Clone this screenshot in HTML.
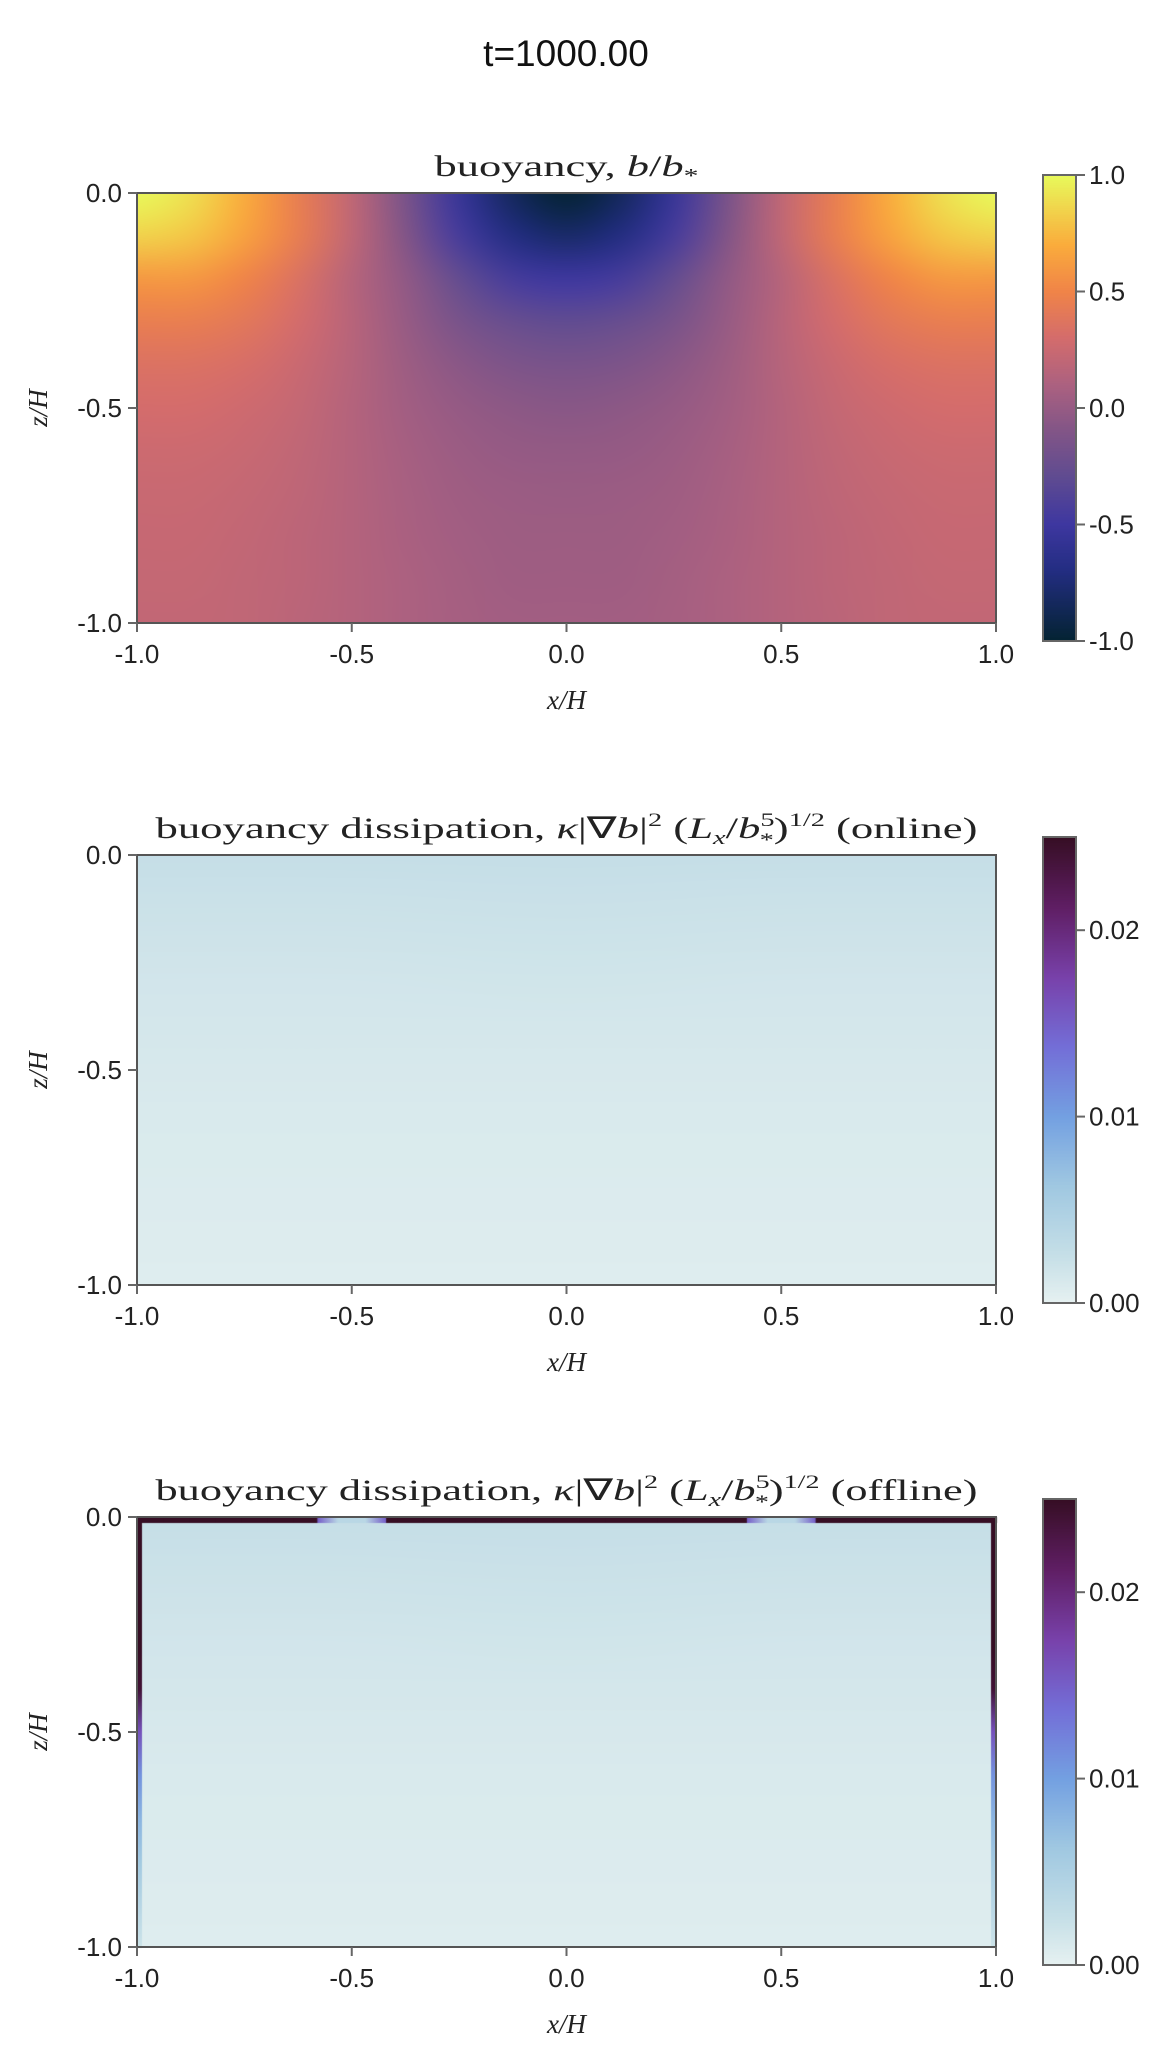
<!DOCTYPE html>
<html><head><meta charset="utf-8">
<style>
html,body{margin:0;padding:0;background:#fff;}
#wrap{position:relative;width:1174px;height:2066px;overflow:hidden;}
canvas{position:absolute;left:0;top:0;}
svg{position:absolute;left:0;top:0;}
</style></head>
<body>
<div id="wrap">
<canvas id="cv" width="1174" height="2066"></canvas>
<svg id="sv" width="1174" height="2066" xmlns="http://www.w3.org/2000/svg"></svg>
</div>
<script>
// ---------- data ----------
const xGrid=[-1,-0.875,-0.75,-0.625,-0.5,-0.375,-0.25,-0.125,0,0.125,0.25,0.375,0.5,0.625,0.75,0.875,1];
const zGrid=[0,-0.1,-0.2,-0.3,-0.4,-0.5,-0.6,-0.7,-0.8,-0.9,-1.0];
const buoyancy=[
[1.0,0.9,0.7,0.45,0.2,-0.15,-0.55,-0.85,-1.0,-0.85,-0.55,-0.15,0.2,0.45,0.7,0.9,1.0],
[0.85,0.8,0.65,0.45,0.2,-0.1,-0.45,-0.7,-0.8,-0.7,-0.45,-0.1,0.2,0.45,0.65,0.8,0.85],
[0.6,0.6,0.5,0.35,0.15,-0.03,-0.27,-0.45,-0.5,-0.45,-0.27,-0.03,0.15,0.35,0.5,0.6,0.6],
[0.45,0.45,0.4,0.3,0.16,0.0,-0.15,-0.25,-0.29,-0.25,-0.15,0.0,0.16,0.3,0.4,0.45,0.45],
[0.35,0.35,0.32,0.25,0.15,0.03,-0.06,-0.13,-0.15,-0.13,-0.06,0.03,0.15,0.25,0.32,0.35,0.35],
[0.3,0.3,0.27,0.22,0.14,0.05,-0.01,-0.05,-0.07,-0.05,-0.01,0.05,0.14,0.22,0.27,0.3,0.3],
[0.26,0.26,0.24,0.2,0.14,0.07,0.02,-0.01,-0.02,-0.01,0.02,0.07,0.14,0.2,0.24,0.26,0.26],
[0.24,0.24,0.22,0.19,0.14,0.08,0.04,0.02,0.01,0.02,0.04,0.08,0.14,0.19,0.22,0.24,0.24],
[0.23,0.23,0.21,0.18,0.14,0.09,0.05,0.03,0.03,0.03,0.05,0.09,0.14,0.18,0.21,0.23,0.23],
[0.22,0.22,0.2,0.18,0.14,0.1,0.06,0.04,0.04,0.04,0.06,0.1,0.14,0.18,0.2,0.22,0.22],
[0.21,0.21,0.2,0.17,0.14,0.1,0.07,0.05,0.05,0.05,0.07,0.1,0.14,0.17,0.2,0.21,0.21]];
const dissXGrid=[-1,-0.5,0,0.5,1];
const dissOnline=[
[0.0026,0.0026,0.0027,0.0026,0.0026],
[0.0022,0.0022,0.0023,0.0022,0.0022],
[0.0019,0.0019,0.0020,0.0019,0.0019],
[0.0016,0.0016,0.0017,0.0016,0.0016],
[0.0014,0.0014,0.0014,0.0014,0.0014],
[0.0012,0.0012,0.0012,0.0012,0.0012],
[0.0010,0.0010,0.0010,0.0010,0.0010],
[0.0009,0.0009,0.0009,0.0009,0.0009],
[0.0008,0.0008,0.0008,0.0008,0.0008],
[0.0007,0.0007,0.0007,0.0007,0.0007],
[0.0006,0.0006,0.0006,0.0006,0.0006]];
const dissOfflineInterior=dissOnline;
const offlineTopEdge=[0.025,0.025,0.025,0.025,0.025,0.025,0.025,0.025,0.025,0.025,0.025,0.025,0.025,0.025,0.025,0.025,0.025,0.025,0.025,0.025,0.025,0.025,0.025,0.025,0.025,0.025,0.025,0.025,0.025,0.025,0.025,0.025,0.025];
const offlineTopGap=[[-0.58,-0.42],[0.42,0.58]];
const offlineSideEdge=[0.025,0.025,0.025,0.025,0.024,0.016,0.011,0.008,0.006,0.004,0.002];
const xTicks=[-1,-0.5,0,0.5,1];
const xTickLabels=["-1.0","-0.5","0.0","0.5","1.0"];
const zTicks=[0,-0.5,-1];
const zTickLabels=["0.0","-0.5","-1.0"];
const bCbTicks=[1,0.5,0,-0.5,-1];
const bCbLabels=["1.0","0.5","0.0","-0.5","-1.0"];
const dCbTicks=[0.02,0.01,0];
const dCbLabels=["0.02","0.01","0.00"];

// ---------- colormaps ----------
const thermal=[[0,4,35,51],[0.15,35,45,130],[0.25,62,55,160],[0.35,95,75,145],[0.45,130,85,135],[0.55,172,97,128],[0.65,212,108,108],[0.75,240,132,72],[0.85,250,172,60],[1,232,250,91]];
const dense=[[0,230,241,241],[0.1,198,223,231],[0.25,160,200,225],[0.4,115,160,225],[0.55,115,110,215],[0.7,120,65,170],[0.85,95,30,100],[1,54,14,36]];
function cmap(stops,t){t=Math.max(0,Math.min(1,t));for(let i=1;i<stops.length;i++){if(t<=stops[i][0]){const a=stops[i-1],b=stops[i],f=(t-a[0])/(b[0]-a[0]);return [0,1,2].map(k=>Math.round(a[k+1]+(b[k+1]-a[k+1])*f));}}const l=stops[stops.length-1];return [l[1],l[2],l[3]];}
const css=c=>`rgb(${c[0]},${c[1]},${c[2]})`;

// ---------- layout ----------
const PX0=137,PX1=996,PH=430,CBX0=1043,CBX1=1076;
const ctx=document.getElementById('cv').getContext('2d');
const svg=document.getElementById('sv');
const NS="http://www.w3.org/2000/svg";
function el(tag,attrs,parent){const e=document.createElementNS(NS,tag);for(const k in attrs)e.setAttribute(k,attrs[k]);(parent||svg).appendChild(e);return e;}

function drawField(grid,stops,vmin,vmax,top){
  const nr=grid.length,nc=grid[0].length;
  const off=document.createElement('canvas');off.width=nc;off.height=nr;
  const o=off.getContext('2d');const img=o.createImageData(nc,nr);
  for(let r=0;r<nr;r++)for(let c=0;c<nc;c++){const col=cmap(stops,(grid[r][c]-vmin)/(vmax-vmin));const i=(r*nc+c)*4;img.data[i]=col[0];img.data[i+1]=col[1];img.data[i+2]=col[2];img.data[i+3]=255;}
  o.putImageData(img,0,0);
  ctx.imageSmoothingEnabled=true;ctx.imageSmoothingQuality='high';
  const sx=(PX1-PX0)/(nc-1),sy=PH/(nr-1);
  ctx.save();ctx.beginPath();ctx.rect(PX0,top,PX1-PX0,PH);ctx.clip();
  ctx.drawImage(off,PX0-sx/2,top-sy/2,(PX1-PX0)+sx,PH+sy);ctx.restore();
}
function drawColorbar(stops,top){
  const h=466;
  for(let y=0;y<h;y++){ctx.fillStyle=css(cmap(stops,1-y/(h-1)));ctx.fillRect(CBX0,top+y,CBX1-CBX0,1);}
}

function panel(i,opt){
  const top=193+662*i, cbTop=175+662*i, cbH=466;
  const g=el('g',{});
  
  
  drawField(opt.grid,opt.stops,opt.vmin,opt.vmax,top);
  if(opt.extra)opt.extra(top);
  drawColorbar(opt.stops,cbTop);
  const xs=v=>PX0+(v+1)/2*(PX1-PX0);
  const zs=v=>top+(-v)*PH;
  const frame=el('rect',{x:PX0,y:top,width:PX1-PX0,height:PH,fill:'none',stroke:'#555','stroke-width':2},g);
  
  xTicks.forEach((v,k)=>{
    el('line',{x1:xs(v),x2:xs(v),y1:top+PH,y2:top+PH+9,stroke:'#666','stroke-width':2},g);
    const t=el('text',{x:xs(v),y:top+PH+40,'text-anchor':'middle','font-family':'Liberation Sans, sans-serif','font-size':26,fill:'#222'},g);
    t.textContent=xTickLabels[k];
    
    
  });
  zTicks.forEach((v,k)=>{
    el('line',{x1:PX0-9,x2:PX0,y1:zs(v),y2:zs(v),stroke:'#666','stroke-width':2},g);
    const t=el('text',{x:PX0-15,y:zs(v)+9,'text-anchor':'end','font-family':'Liberation Sans, sans-serif','font-size':26,fill:'#222'},g);
    t.textContent=zTickLabels[k];
    
    
  });
  const xl=el('text',{x:(PX0+PX1)/2,y:top+PH+86,'text-anchor':'middle','font-family':'Liberation Serif, serif','font-size':27,'font-style':'italic',fill:'#222'},g);
  xl.textContent='x/H';
  
  const zl=el('text',{x:0,y:0,'text-anchor':'middle','font-family':'Liberation Serif, serif','font-size':27,'font-style':'italic',fill:'#222',transform:`translate(47,${top+PH/2}) rotate(-90)`},g);
  zl.textContent='z/H';
  
  const cf=el('rect',{x:CBX0,y:cbTop,width:CBX1-CBX0,height:cbH,fill:'none',stroke:'#666','stroke-width':2},g);
  
  opt.cbTicks.forEach((v,k)=>{
    const y=cbTop+(opt.vmax-v)/(opt.vmax-opt.vmin)*cbH;
    el('line',{x1:CBX1,x2:CBX1+9,y1:y,y2:y,stroke:'#666','stroke-width':2},g);
    const t=el('text',{x:CBX1+13,y:y+9,'font-family':'Liberation Sans, sans-serif','font-size':26,fill:'#222'},g);
    t.textContent=opt.cbLabels[k];
    
    
  });
  const tt=el('text',{x:(PX0+PX1)/2,y:top-17,'text-anchor':'middle','font-family':'Liberation Serif, serif','font-size':30,fill:'#222',textLength:opt.titleLen,lengthAdjust:'spacingAndGlyphs'},g);
  tt.innerHTML=opt.title;
  
}

const ft=el('text',{x:566,y:66,'text-anchor':'middle','font-family':'Liberation Sans, sans-serif','font-size':37,fill:'#111'});
ft.textContent='t=1000.00';



const I=s=>`<tspan font-style="italic">${s}</tspan>`;
const dissTitle=w=>`buoyancy dissipation, ${I('κ')}|∇${I('b')}|<tspan dy="-12" font-size="19">2</tspan><tspan dy="12"> (</tspan>${I('L')}<tspan dy="6" font-size="19" font-style="italic">x</tspan><tspan dy="-6">/</tspan>${I('b')}<tspan dy="-12" font-size="19">5</tspan><tspan dx="-10" dy="20" font-size="19">*</tspan><tspan dy="-8">)</tspan><tspan dy="-12" font-size="19">1/2</tspan><tspan dy="12"> (${w})</tspan>`;

panel(0,{name:'buoyancy-panel',grid:buoyancy,stops:thermal,vmin:-1,vmax:1,cbTicks:bCbTicks,cbLabels:bCbLabels,
  title:`buoyancy, ${I('b')}/${I('b')}<tspan dy="6" font-size="20">*</tspan>`,titleLen:264});
panel(1,{name:'dissipation-online-panel',grid:dissOnline,stops:dense,vmin:0,vmax:0.025,cbTicks:dCbTicks,cbLabels:dCbLabels,
  title:dissTitle('online'),titleLen:822});
panel(2,{name:'dissipation-offline-panel',grid:dissOfflineInterior,stops:dense,vmin:0,vmax:0.025,cbTicks:dCbTicks,cbLabels:dCbLabels,
  title:dissTitle('offline'),titleLen:822,
  extra:function(top){
    const n=offlineTopEdge.length,w=(PX1-PX0)/n;
    offlineTopEdge.forEach((v,k)=>{ctx.fillStyle=css(cmap(dense,v/0.025));ctx.fillRect(PX0+k*w,top,w+1,6);});
    offlineTopGap.forEach(([a,b])=>{const xa=PX0+(a+1)/2*(PX1-PX0),xb=PX0+(b+1)/2*(PX1-PX0);
      const gr=ctx.createLinearGradient(xa,0,xb,0);gr.addColorStop(0,css(cmap(dense,0.6)));gr.addColorStop(0.3,css(cmap(dense,0.15)));gr.addColorStop(0.7,css(cmap(dense,0.15)));gr.addColorStop(1,css(cmap(dense,0.6)));
      ctx.fillStyle=gr;ctx.fillRect(xa,top,xb-xa,6);});
    const m=offlineSideEdge.length,h=PH/(m-1);
    for(let k=0;k<m-1;k++){const gr=ctx.createLinearGradient(0,top+k*h,0,top+(k+1)*h);
      gr.addColorStop(0,css(cmap(dense,offlineSideEdge[k]/0.025)));gr.addColorStop(1,css(cmap(dense,offlineSideEdge[k+1]/0.025)));
      ctx.fillStyle=gr;ctx.fillRect(PX0,top+k*h,5,h+1);ctx.fillRect(PX1-5,top+k*h,5,h+1);}
  }});
</script>
</body></html>
